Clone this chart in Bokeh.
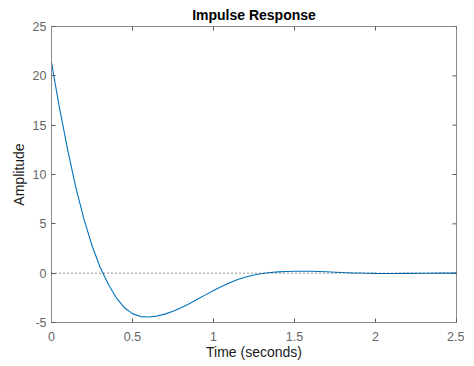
from bokeh.plotting import figure
from bokeh.models import LinearAxis, Range1d, FixedTicker, Span
from bokeh.embed import file_html
from bokeh.resources import INLINE
import math

# Impulse response samples
time_s = [0.0, 0.014, 0.05, 0.1, 0.15, 0.2, 0.25, 0.3, 0.35, 0.4, 0.45, 0.5, 0.55, 0.6,
          0.65, 0.7, 0.75, 0.8, 0.85, 0.9, 0.95, 1.0, 1.05, 1.1, 1.15, 1.2, 1.25, 1.3,
          1.35, 1.4, 1.45, 1.5, 1.55, 1.6, 1.65, 1.7, 1.75, 1.8, 1.85, 1.9, 1.95, 2.0,
          2.1, 2.2, 2.3, 2.4, 2.5]
amplitude = [21.4, 20.0, 16.7, 12.5, 8.7, 5.5, 2.8, 0.6, -1.1, -2.5, -3.5, -4.1, -4.4, -4.45,
             -4.35, -4.15, -3.85, -3.5, -3.1, -2.65, -2.2, -1.75, -1.35, -0.98, -0.65, -0.38, -0.18, -0.04,
             0.06, 0.13, 0.17, 0.19, 0.2, 0.19, 0.17, 0.14, 0.1, 0.06, 0.03, 0.01, -0.01, -0.02,
             -0.03, -0.02, -0.01, 0.0, 0.0]

x_ticks = [0, 0.5, 1, 1.5, 2, 2.5]
x_tick_labels = ["0", "0.5", "1", "1.5", "2", "2.5"]
y_ticks = [-5, 0, 5, 10, 15, 20, 25]
y_tick_labels = ["-5", "0", "5", "10", "15", "20", "25"]
x_range = (0, 2.5)
y_range = (-5, 25)

FONT = "Liberation Sans"
AXIS_COLOR = "#8c8c8c"
TICK_COLOR = "#5a5a5a"
LABEL_COLOR = "#666666"

p = figure(frame_width=405, frame_height=296, output_backend="svg", toolbar_location=None,
           x_range=Range1d(*x_range), y_range=Range1d(*y_range),
           x_axis_location=None, y_axis_location=None,
           min_border_left=51, min_border_right=8, min_border_top=26, min_border_bottom=38,
           title="Impulse Response")
p.title.align = "center"
p.title.text_font = FONT
p.title.text_font_size = "14px"
p.title.text_font_style = "bold"
p.title.text_color = "#000000"
p.title.offset = 0
p.title.standoff = 8
p.outline_line_color = AXIS_COLOR
p.xgrid.visible = False
p.ygrid.visible = False
p.background_fill_color = "white"
p.border_fill_color = "white"

def style_axis(ax, ticks, labels):
    ax.ticker = FixedTicker(ticks=ticks)
    ax.axis_line_color = AXIS_COLOR
    ax.major_tick_line_color = TICK_COLOR
    ax.major_tick_in = 4
    ax.major_tick_out = 0
    ax.minor_tick_line_color = None
    ax.major_label_overrides = {t: l for t, l in zip(ticks, labels)}
    ax.major_label_text_font = FONT
    ax.major_label_text_font_size = "12.5px"
    ax.major_label_text_color = LABEL_COLOR
    ax.major_label_standoff = 5
    ax.axis_label_text_font = FONT
    ax.axis_label_text_font_size = "14px"
    ax.axis_label_text_font_style = "normal"
    ax.axis_label_text_color = "#1a1a1a"
    ax.axis_label_standoff = 2

xb = LinearAxis(axis_label="Time (seconds)")
style_axis(xb, x_ticks, x_tick_labels)
xb.major_label_standoff = 9
xb.axis_label_standoff = 0
p.add_layout(xb, "below")
yl = LinearAxis(axis_label="Amplitude")
style_axis(yl, y_ticks, y_tick_labels)
yl.axis_label_standoff = 3
p.add_layout(yl, "left")

# inward ticks on the top and right edges of the box (clipped to the frame)
p.scatter(x_ticks, [y_range[1]] * len(x_ticks), marker="dash", size=8, angle=math.pi / 2,
          line_color=TICK_COLOR, line_width=1)
p.scatter([x_range[1]] * len(y_ticks), y_ticks, marker="dash", size=8,
          line_color=TICK_COLOR, line_width=1)

p.add_layout(Span(location=0, dimension="width", line_color="#222222",
                  line_dash="1 3", line_width=1))
p.line(time_s, amplitude, line_color="#0072BD", line_width=1.1)

open("out.html", "w").write(file_html(p, INLINE))
